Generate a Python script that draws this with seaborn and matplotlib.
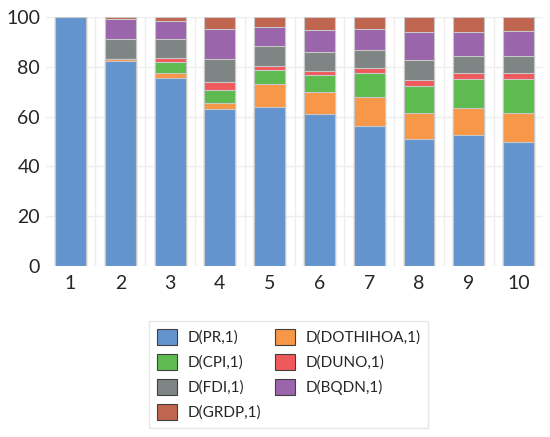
import numpy as np
import pandas as pd
import matplotlib
matplotlib.use("Agg")
import matplotlib.pyplot as plt
import seaborn as sns
from matplotlib.patches import Patch

periods = ["1", "2", "3", "4", "5", "6", "7", "8", "9", "10"]
series_names = ["D(PR,1)", "D(DOTHIHOA,1)", "D(CPI,1)", "D(DUNO,1)",
                "D(FDI,1)", "D(BQDN,1)", "D(GRDP,1)"]

pr = [100.0, 82.6, 75.7, 63.0, 63.8, 61.0, 56.4, 51.1, 52.8, 49.9]
dothihoa = [0.0, 0.6, 1.8, 2.4, 9.3, 8.9, 11.6, 10.5, 10.6, 11.7]
cpi = [0.0, 0.0, 4.6, 5.5, 5.6, 7.0, 9.7, 10.7, 11.7, 13.5]
duno = [0.0, 0.0, 1.6, 3.0, 1.9, 1.6, 1.8, 2.4, 2.4, 2.4]
fdi = [0.0, 8.0, 7.5, 9.3, 7.9, 7.7, 7.5, 8.3, 7.1, 6.9]
bqdn = [0.0, 8.0, 7.5, 12.1, 7.6, 8.7, 8.2, 11.3, 9.5, 10.1]
grdp = [0.0, 0.8, 1.3, 4.7, 3.9, 5.1, 4.8, 5.7, 5.9, 5.5]

colors = ["#6494CE", "#F79747", "#5EBB4F", "#F0595C",
          "#7F8584", "#9A65AA", "#C0654F"]

series = [pr, dothihoa, cpi, duno, fdi, bqdn, grdp]
cum = np.cumsum(np.array(series), axis=0)

sns.set_style("white")
plt.rcParams["font.family"] = ["Lato", "DejaVu Sans"]

fig = plt.figure(figsize=(5.5, 4.37), dpi=100)
ax = fig.add_axes([0.083, 0.392, 0.905, 0.568])

# draw cumulative totals from the top layer down so each layer shows
for i in range(len(series) - 1, -1, -1):
    df = pd.DataFrame({"period": periods, "value": cum[i]})
    sns.barplot(data=df, x="period", y="value", color=colors[i],
                width=0.62, edgecolor="#C8C8C8", linewidth=0.8,
                saturation=1, ax=ax, zorder=3)

ax.set_ylim(0, 100)
ax.set_xlim(-0.5, len(periods) - 0.5)
ax.set_yticks([0, 20, 40, 60, 80, 100])
ax.set_xlabel("")
ax.set_ylabel("")
ax.set_xticks(np.arange(len(periods)) + 0.5, minor=True)
ax.grid(axis="y", color="#EEEEEE", linewidth=1, zorder=0)
ax.grid(axis="x", which="minor", color="#EEEEEE", linewidth=1, zorder=0)
ax.tick_params(axis="both", which="both", length=0, labelsize=14)
ax.tick_params(axis="x", pad=7)
ax.tick_params(axis="y", pad=4)
for s in ax.spines.values():
    s.set_visible(False)

# legend order: matplotlib fills columns first
order = [0, 2, 4, 6, 1, 3, 5]
handles = [Patch(facecolor=colors[i], edgecolor="#404040", linewidth=0.8,
                 label=series_names[i]) for i in order]
fig.legend(handles=handles, loc="center", bbox_to_anchor=(0.525, 0.143),
           ncol=2, fontsize=11, frameon=True, edgecolor="#E0E0E0",
           fancybox=False, handlelength=1.3, handleheight=1.3,
           columnspacing=0.9, labelspacing=0.55, borderpad=0.5,
           handletextpad=0.7)

fig.savefig("out.png", dpi=100)
